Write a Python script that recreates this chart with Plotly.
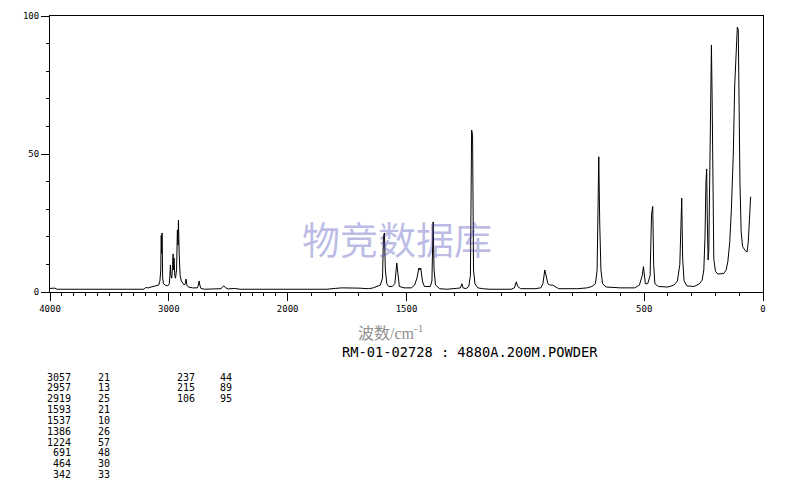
import plotly.graph_objects as go

# ---------------- data ----------------
# high-wavenumber region (4000-2000 cm-1)
high_wn = [4000, 3960, 3940, 3900, 3600, 3400, 3210, 3195, 3170, 3150, 3120, 3100, 3085,
           3075, 3068, 3064, 3060, 3057, 3052, 3045, 3030, 3010, 2996, 2991, 2987, 2983,
           2975, 2968, 2964, 2960, 2956, 2950, 2944, 2935, 2928, 2923, 2919, 2913, 2905,
           2895, 2880, 2870, 2862, 2855, 2848, 2835, 2800, 2760, 2751, 2745, 2739, 2730,
           2700, 2640, 2600, 2560, 2546, 2537, 2522, 2500, 2450, 2400, 2200, 2000]
high_int = [1.3, 1.4, 1.0, 1.0, 1.0, 1.0, 1.0, 1.6, 1.5, 1.8, 2.0, 2.2, 2.5,
            4.0, 8.0, 20.5, 14.0, 21.4, 5.0, 3.0, 2.5, 2.2, 3.0, 6.0, 9.8, 6.0,
            5.0, 10.0, 13.8, 8.0, 12.3, 6.0, 5.0, 8.0, 22.5, 17.0, 26.0, 14.0, 6.0,
            4.0, 3.0, 2.5, 3.0, 4.7, 2.5, 1.8, 1.5, 1.5, 2.5, 4.0, 2.5, 1.3,
            1.0, 1.0, 1.2, 1.2, 2.0, 2.2, 1.5, 1.1, 1.3, 1.0, 1.0, 1.0]

# fingerprint region (2000-700 cm-1)
mid_wn = [1900, 1835, 1800, 1773, 1700, 1660, 1640, 1625, 1610, 1601, 1597, 1593, 1589,
          1583, 1575, 1560, 1549, 1541, 1536, 1530, 1510, 1480, 1466, 1456, 1448, 1444,
          1440, 1433, 1425, 1400, 1393, 1388, 1384, 1378, 1360, 1330, 1290, 1273, 1267,
          1262, 1250, 1238, 1231, 1226, 1222, 1218, 1212, 1200, 1180, 1150, 1060, 1046,
          1038, 1032, 1020, 960, 935, 926, 918, 912, 905, 895, 885, 875, 860, 780, 740, 720]
mid_int = [1.0, 1.0, 1.3, 1.5, 1.4, 1.2, 1.5, 2.0, 2.5, 5.0, 20.0, 21.4, 8.0,
           3.0, 2.0, 2.0, 3.0, 10.5, 6.0, 2.0, 1.5, 1.5, 2.5, 5.0, 8.7, 8.0,
           8.7, 4.0, 2.0, 2.0, 4.0, 25.4, 8.0, 2.5, 1.2, 1.0, 1.3, 1.5, 3.0,
           1.5, 1.2, 2.0, 6.0, 58.7, 57.0, 8.0, 3.0, 1.5, 1.2, 1.0, 1.0, 1.5,
           3.7, 2.0, 1.2, 1.2, 1.5, 3.0, 8.0, 6.0, 3.0, 2.5, 2.5, 2.0, 1.2, 1.2, 1.5, 2.0]

# low-wavenumber region (700-52 cm-1)
low_wn = [705, 698, 694, 691, 687, 682, 675, 660, 600, 540, 520, 508, 503, 499, 495,
          485, 475, 469, 464, 460, 455, 440, 400, 375, 360, 350, 345, 342, 338, 332,
          320, 290, 267, 256, 249, 244, 240, 237, 234, 231, 228, 224, 220, 217, 214,
          211, 207, 200, 190, 165, 155, 148, 140, 133, 125, 119, 112, 108, 104, 100,
          97, 92, 86, 75, 67, 62, 58, 52]
low_int = [3.0, 8.0, 35.0, 49.0, 25.0, 8.0, 3.0, 1.8, 1.5, 1.5, 2.5, 6.0, 9.2, 5.0, 3.0,
           3.0, 6.0, 28.0, 31.0, 10.0, 3.0, 2.0, 1.8, 2.5, 4.0, 10.0, 33.0, 34.0, 12.0, 4.0,
           2.2, 2.0, 3.0, 4.3, 8.0, 20.0, 40.0, 44.6, 25.0, 11.6, 15.0, 40.0, 70.0, 89.5, 70.0,
           30.0, 12.0, 7.5, 6.5, 6.7, 8.0, 11.0, 18.0, 30.0, 50.0, 75.0, 91.0, 96.0, 95.0, 60.0,
           40.0, 22.0, 16.5, 15.0, 14.5, 18.0, 24.0, 34.5]

# axis ticks
x_tick_wn = [4000, 3000, 2000, 1500, 500, 0]
x_tick_text = ["4000", "3000", "2000", "1500", "500", "0"]
y_tick_vals = [0, 50, 100]
y_tick_text = ["0", "50", "100"]

# peak table
peak_wn_col1 = ["3057", "2957", "2919", "1593", "1537", "1386", "1224", "691", "464", "342"]
peak_int_col1 = ["21", "13", "25", "21", "10", "26", "57", "48", "30", "33"]
peak_wn_col2 = ["237", "215", "106"]
peak_int_col2 = ["44", "89", "95"]

title_text = "RM-01-02728 : 4880A.200M.POWDER"
xaxis_title = "波数/cm<sup>-1</sup>"
watermark = "物竞数据库"


# ---------------- axis scale: half compression above 2000 cm-1 ----------------
def u(w):
    return w if w <= 2000 else 2000 + (w - 2000) / 2.0


wn = high_wn + mid_wn + low_wn
inten = high_int + mid_int + low_int
xs = [u(w) for w in wn]

W, H = 794, 482
L, R, T, B = 50, 763, 16, 292


def px(x):
    return (x - L) / (R - L)


def py(y):
    return (B - y) / (B - T)


fig = go.Figure()
fig.add_trace(go.Scatter(x=xs, y=inten, mode="lines",
                         line=dict(color="black", width=1), hoverinfo="skip",
                         showlegend=False))

mono = "DejaVu Sans Mono"

fig.update_layout(
    width=W, height=H,
    margin=dict(l=L, r=W - R, t=T, b=H - B),
    paper_bgcolor="white", plot_bgcolor="white",
    xaxis=dict(range=[u(4000), u(0)], showgrid=False, zeroline=False,
               showline=True, linecolor="black", linewidth=1, mirror=True,
               ticks="outside", ticklen=8, tickcolor="black", tickwidth=1,
               tickmode="array", tickvals=[u(w) for w in x_tick_wn], ticktext=x_tick_text,
               tickfont=dict(family=mono, size=9, color="black"),
               minor=dict(tickmode="array", tickvals=[u(w) for w in range(0, 4001, 100)],
                          ticks="outside", ticklen=3, tickcolor="black", tickwidth=1,
                          showgrid=False)),
    yaxis=dict(range=[0, 100], showgrid=False, zeroline=False,
               showline=True, linecolor="black", linewidth=1, mirror=True,
               ticks="outside", ticklen=8, tickcolor="black", tickwidth=1,
               tickmode="array", tickvals=y_tick_vals, ticktext=y_tick_text,
               tickfont=dict(family=mono, size=9, color="black"),
               minor=dict(tickmode="array", tickvals=list(range(0, 101, 10)),
                          ticks="outside", ticklen=3, tickcolor="black", tickwidth=1,
                          showgrid=False)),
)

ann = []
# watermark
ann.append(dict(x=px(397), y=py(237), xref="paper", yref="paper", text=watermark,
                showarrow=False, xanchor="center", yanchor="middle",
                font=dict(family="Noto Sans CJK SC", size=38, color="rgba(60,60,180,0.34)")))
# axis title
ann.append(dict(x=px(390), y=py(332), xref="paper", yref="paper", text=xaxis_title,
                showarrow=False, xanchor="center", yanchor="middle",
                font=dict(family="Liberation Serif, Noto Sans CJK SC", size=16, color="#909090")))
# sample title
ann.append(dict(x=px(470), y=py(352), xref="paper", yref="paper", text=title_text,
                showarrow=False, xanchor="center", yanchor="middle",
                font=dict(family=mono, size=13.7, color="black")))
# peak table
row0, dy = 377, 10.85
for cols, xr in ((peak_wn_col1, 73), (peak_int_col1, 112), (peak_wn_col2, 197), (peak_int_col2, 234)):
    for i, t in enumerate(cols):
        ann.append(dict(x=px(xr), y=py(row0 + i * dy), xref="paper", yref="paper", text=t,
                        showarrow=False, xanchor="right", yanchor="middle",
                        font=dict(family=mono, size=10, color="black")))
fig.update_layout(annotations=ann)

fig.write_html("out.html",
               config={"displayModeBar": False},
               post_script="document.body.style.margin='0';document.body.style.overflow='hidden';")
